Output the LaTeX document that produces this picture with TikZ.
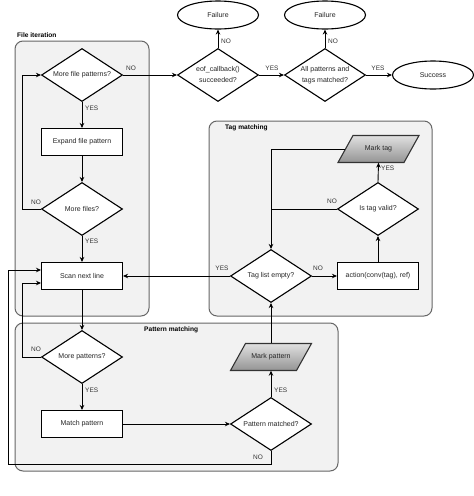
\documentclass[tikz,border=0pt]{standalone}
\usepackage{fontspec}
\setmainfont{Liberation Sans}
\usetikzlibrary{shapes.geometric,arrows.meta}
\begin{document}
\begin{tikzpicture}[x=1pt,y=-1pt,
  font=\fontsize{7}{8.4}\selectfont,
  container/.style={draw=black!60,fill=black!5,line width=1pt,rounded corners=8pt},
  grouplabel/.style={font=\fontsize{6.6}{8}\selectfont\bfseries,anchor=west,inner sep=0pt},
  base/.style={draw=black,line width=1.1pt,text=black!85,inner sep=0pt},
  dia/.style={base,diamond,minimum width=81pt,minimum height=53pt,fill=white},
  box/.style={base,rectangle,minimum width=81pt,minimum height=27pt,fill=white},
  term/.style={base,ellipse,minimum width=81pt,minimum height=28pt,fill=white},
  para/.style={rectangle,inner sep=0pt,text=black!85,minimum width=66pt,minimum height=27pt},
  parashape/.style={draw=black!80,line width=1.1pt,top color=black!12,bottom color=black!42},
  conn/.style={line width=0.9pt,draw=black},
  arr/.style={conn,-{Stealth[length=5pt,width=4.5pt]}},
  lab/.style={font=\fontsize{6.5}{7.5}\selectfont,text=black!80,inner sep=0pt}
]
\useasboundingbox (0,0) rectangle (474,496);

% containers
\draw[container] (15,41) rectangle (149,316);
\draw[container] (209,121) rectangle (432,316);
\draw[container] (15,323) rectangle (338,471);
\node[grouplabel] (gl1) at (17,35) {File iteration};
\node[grouplabel] (gl2) at (225,128) {Tag matching};
\node[grouplabel] (gl3) at (144,330) {Pattern matching};

% parallelogram bodies
\shade[parashape] (230.5,370.5) -- (296.5,370.5) -- (311.5,343.5) -- (245.5,343.5) -- cycle;
\shade[parashape] (338,162.5) -- (404,162.5) -- (419,135.5) -- (353,135.5) -- cycle;

% nodes
\node[dia] (d1) at (82,75) {\makebox[0pt]{More file patterns?}};
\node[box] (b1) at (82,142) {Expand file pattern};
\node[dia] (d2) at (82,209) {\makebox[0pt]{More files?}};
\node[box] (b2) at (82,276) {Scan next line};
\node[dia] (d3) at (82,357) {\makebox[0pt]{More patterns?}};
\node[box] (b3) at (82,424) {Match pattern};
\node[dia] (d4) at (271,424) {\makebox[0pt]{Pattern matched?}};
\node[para] (p1) at (271,357) {Mark pattern};
\node[dia] (d5) at (271,276) {\makebox[0pt]{Tag list empty?}};
\node[box] (b4) at (378,276) {\makebox[0pt]{action(conv(tag), ref)}};
\node[dia] (d6) at (378,209) {\makebox[0pt]{Is tag valid?}};
\node[para] (p2) at (378.5,149) {Mark tag};
\node[dia] (d7) at (218,75) {\makebox[0pt]{\renewcommand\arraystretch{1.25}\begin{tabular}{@{}c@{}}eof\_callback()\\succeeded?\end{tabular}}};
\node[dia] (d8) at (325,75) {\makebox[0pt]{\renewcommand\arraystretch{1.25}\begin{tabular}{@{}c@{}}All patterns and\\tags matched?\end{tabular}}};
\node[term] (e1) at (218,15) {Failure};
\node[term] (e2) at (325,15) {Failure};
\node[term] (e3) at (433,75) {Success};

% connectors
\draw[arr] (d1.east) -- (d7.west);
\draw[arr] (d1.south) -- (b1.north);
\draw[arr] (b1.south) -- (d2.north);
\draw[arr] (d2.west) -- (22,209) -- (22,75) -- (d1.west);
\draw[arr] (d2.south) -- (b2.north);
\draw[arr] (b2.south) -- (d3.north);
\draw[arr] (d3.west) -- (22,357) -- (22,283) -- (41,283);
\draw[arr] (d3.south) -- (b3.north);
\draw[arr] (b3.east) -- (d4.west);
\draw[arr] (d4.south) -- (271,464) -- (8,464) -- (8,270) -- (41,270);
\draw[arr] (d4.north) -- (p1.south);
\draw[arr] (p1.north) -- (d5.south);
\draw[arr] (d5.west) -- (b2.east);
\draw[arr] (d5.east) -- (b4.west);
\draw[arr] (b4.north) -- (d6.south);
\draw[conn] (d6.west) -- (271,209);
\draw[arr] (d6.north) -- (p2.south);
\draw[arr] (p2.west) -- (271,149) -- (d5.north);
\draw[arr] (d7.north) -- (e1.south);
\draw[arr] (d7.east) -- (d8.west);
\draw[arr] (d8.north) -- (e2.south);
\draw[arr] (d8.east) -- (e3.west);

% labels
\node[lab] (l1) at (131,68) {NO};
\node[lab,anchor=west] (l2) at (85,108) {YES};
\node[lab] (l3) at (36,202) {NO};
\node[lab,anchor=west] (l4) at (85,241) {YES};
\node[lab] (l5) at (36,349) {NO};
\node[lab,anchor=west] (l6) at (85,390) {YES};
\node[lab] (l7) at (258,457) {NO};
\node[lab,anchor=west] (l8) at (274,390) {YES};
\node[lab] (l9) at (222,268) {YES};
\node[lab] (l10) at (318,268) {NO};
\node[lab] (l11) at (332,201) {NO};
\node[lab,anchor=west] (l12) at (381,168) {YES};
\node[lab,anchor=west] (l13) at (221,41) {NO};
\node[lab] (l14) at (272,68) {YES};
\node[lab,anchor=west] (l15) at (328,41) {NO};
\node[lab] (l16) at (378,68) {YES};
\end{tikzpicture}
\end{document}
